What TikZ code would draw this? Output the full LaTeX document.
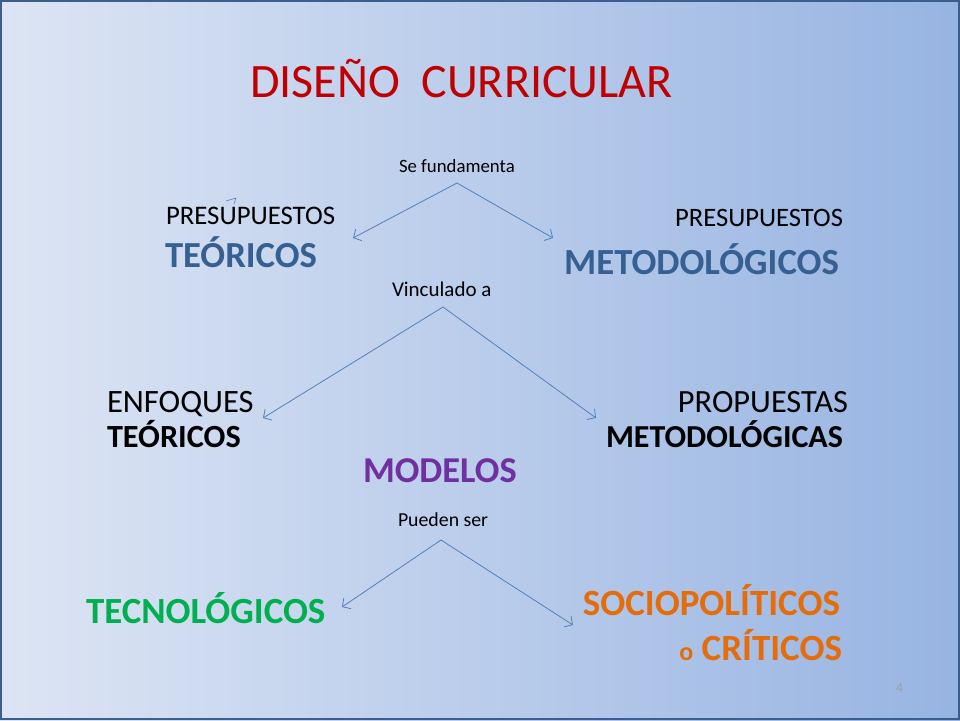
\documentclass[tikz,border=0pt]{standalone}
\usepackage{fontspec}
\setmainfont{Carlito}
\definecolor{bgleft}{RGB}{221,229,244}
\definecolor{bgright}{RGB}{151,180,226}
\definecolor{frame}{RGB}{59,94,143}
\definecolor{titlered}{RGB}{192,0,0}
\definecolor{darkblue}{RGB}{55,96,146}
\definecolor{purple}{RGB}{112,48,160}
\definecolor{green}{RGB}{0,176,80}
\definecolor{orange}{RGB}{228,108,10}
\definecolor{arrowblue}{RGB}{79,129,189}
\definecolor{numgrey}{RGB}{150,160,175}
\usetikzlibrary{arrows.meta}
\usetikzlibrary{positioning}
\tikzstyle{base}=[inner sep=0pt, outer sep=0pt, x=1pt, y=-1pt]
\tikzstyle{lbl}=[anchor=base west]
\tikzstyle{lblr}=[anchor=base east]
\tikzstyle{link}=[arrowblue, line width=0.8pt, -{Straight Barb[length=6pt,width=13pt]}]

\begin{document}
\begin{tikzpicture}[base]
    \fill [left color=bgleft, right color=bgright] (0,0) rectangle (960,720);
    \draw [frame, line width=2pt] (1,1) rectangle (959,719);
    \node [lbl, titlered] (title) at (250,97) {\fontsize{48}{50}\selectfont DISEÑO\ \ CURRICULAR};
    % se fundamenta
    \node [lbl] (fund) at (399,172) {\fontsize{18.8}{20}\selectfont Se fundamenta};
    \node [lbl] (presleft) at (166,224) {\fontsize{26.8}{28}\selectfont PRESUPUESTOS};
    \node [lbl, darkblue] (teoleft) at (165,267) {\fontsize{36.7}{38}\selectfont\bfseries TEÓRICOS};
    \node [lblr] (presright) at (843,226) {\fontsize{26.6}{28}\selectfont PRESUPUESTOS};
    \node [lblr, darkblue] (metright) at (839,274) {\fontsize{36.8}{38}\selectfont\bfseries METODOLÓGICOS};
    \coordinate (fundtop) at (457,183);
    \coordinate (fundl) at (353,238);
    \coordinate (fundr) at (553,238);
    \draw [link] (fundtop) -- (fundl);
    \draw [link] (fundtop) -- (fundr);
    \draw [arrowblue, line width=0.6pt] (226,201) -- (236,198) -- (234,204);
    % vinculado a
    \node [lbl] (vinc) at (392,296) {\fontsize{21}{22}\selectfont Vinculado a};
    \node [lbl] (enfo) at (107,412) {\fontsize{32.6}{34}\selectfont ENFOQUES};
    \node [lbl] (teomid) at (107,447) {\fontsize{32.3}{34}\selectfont\bfseries TEÓRICOS};
    \node [lblr] (prop) at (848,412) {\fontsize{32.4}{34}\selectfont PROPUESTAS};
    \node [lblr] (metmid) at (843,447) {\fontsize{32}{34}\selectfont\bfseries METODOLÓGICAS};
    \coordinate (vinctop) at (443,307);
    \coordinate (vincl) at (263,418);
    \coordinate (vincr) at (596,418);
    \draw [link] (vinctop) -- (vincl);
    \draw [link] (vinctop) -- (vincr);
    \node [lbl, purple] (modelos) at (363,482) {\fontsize{36.4}{38}\selectfont\bfseries MODELOS};
    % pueden ser
    \node [lbl] (pueden) at (398,526) {\fontsize{19.8}{21}\selectfont Pueden ser};
    \node [lbl, green] (tecno) at (86,623) {\fontsize{36.9}{38}\selectfont\bfseries TECNOLÓGICOS};
    \node [lblr, orange] (socio) at (840,615) {\fontsize{37}{38}\selectfont\bfseries SOCIOPOLÍTICOS};
    \node [lblr, orange] (criticos) at (842,660) {\fontsize{37}{38}\selectfont\bfseries {\fontsize{26}{28}\selectfont o} CRÍTICOS};
    \coordinate (puedtop) at (441,540);
    \coordinate (puedl) at (342,607);
    \coordinate (puedr) at (573,625);
    \draw [link] (puedtop) -- (puedl);
    \draw [link] (puedtop) -- (puedr);
    \node [lbl, numgrey] (pagenum) at (896,692) {\fontsize{14}{16}\selectfont 4};
    \path [use as bounding box] (0,0) rectangle (960,720);
\end{tikzpicture}
\end{document}
